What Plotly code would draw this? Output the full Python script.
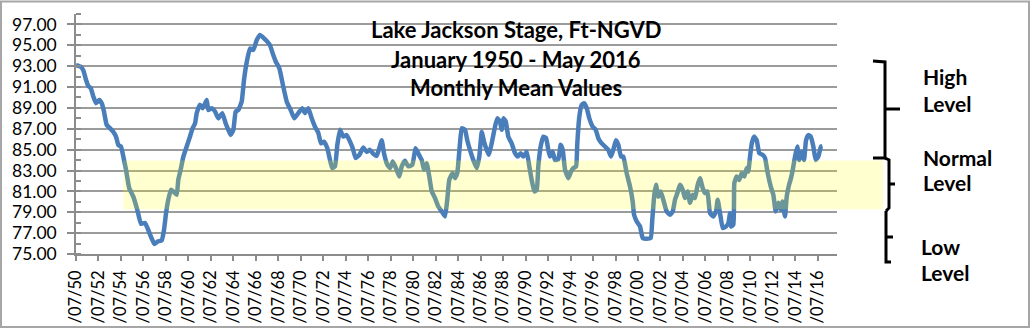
import plotly.graph_objects as go

# ---------------- data ----------------
years = [
    1950.00, 1950.42, 1950.65, 1950.89, 1951.09, 1951.31, 1951.54, 1951.78, 1952.07, 1952.29,
    1952.49, 1952.73, 1953.02, 1953.32, 1953.56, 1953.76, 1954.00, 1954.21, 1954.45, 1954.74,
    1955.10, 1955.45, 1955.78, 1956.14, 1956.43, 1956.73, 1956.97, 1957.27, 1957.62, 1957.83,
    1958.01, 1958.21, 1958.45, 1958.66, 1958.96, 1959.10, 1959.31, 1959.55, 1959.85, 1960.14,
    1960.38, 1960.59, 1960.74, 1961.03, 1961.27, 1961.63, 1961.77, 1962.07, 1962.37, 1962.66,
    1963.02, 1963.32, 1963.55, 1963.76, 1964.00, 1964.21, 1964.44, 1964.74, 1964.95, 1965.19,
    1965.48, 1965.77, 1966.08, 1966.37, 1966.73, 1967.02, 1967.26, 1967.55, 1967.79, 1968.09,
    1968.44, 1968.75, 1969.10, 1969.42, 1969.78, 1970.13, 1970.37, 1970.67, 1970.97, 1971.26,
    1971.56, 1971.80, 1972.06, 1972.36, 1972.60, 1972.80, 1973.04, 1973.25, 1973.49, 1973.78,
    1974.08, 1974.38, 1974.62, 1974.88, 1975.21, 1975.56, 1975.86, 1976.16, 1976.45, 1976.75,
    1976.98, 1977.20, 1977.40, 1977.70, 1977.94, 1978.18, 1978.47, 1978.76, 1978.98, 1979.27,
    1979.56, 1979.92, 1980.22, 1980.52, 1980.76, 1980.96, 1981.20, 1981.43, 1981.65, 1981.94,
    1982.23, 1982.54, 1982.83, 1983.03, 1983.21, 1983.51, 1983.72, 1983.92, 1984.16, 1984.32,
    1984.61, 1984.81, 1985.05, 1985.35, 1985.65, 1985.88, 1986.10, 1986.30, 1986.54, 1986.74,
    1986.98, 1987.28, 1987.48, 1987.72, 1987.87, 1988.02, 1988.23, 1988.46, 1988.76, 1989.06,
    1989.30, 1989.56, 1989.80, 1990.10, 1990.33, 1990.54, 1990.78, 1990.99, 1991.13, 1991.34,
    1991.58, 1991.82, 1992.02, 1992.17, 1992.41, 1992.62, 1992.91, 1993.12, 1993.30, 1993.51,
    1993.80, 1994.04, 1994.25, 1994.49, 1994.60, 1994.78, 1994.99, 1995.20, 1995.44, 1995.67,
    1995.97, 1996.24, 1996.47, 1996.77, 1997.07, 1997.36, 1997.60, 1997.80, 1998.04, 1998.25,
    1998.49, 1998.69, 1998.99, 1999.29, 1999.53, 1999.65, 1999.89, 2000.18, 2000.42, 2000.78,
    2001.13, 2001.27, 2001.45, 2001.60, 2001.81, 2002.02, 2002.25, 2002.55, 2002.85, 2003.09,
    2003.29, 2003.50, 2003.74, 2003.98, 2004.18, 2004.42, 2004.63, 2004.87, 2005.07, 2005.31,
    2005.52, 2005.76, 2005.96, 2006.17, 2006.41, 2006.70, 2006.94, 2007.09, 2007.30, 2007.54,
    2007.83, 2008.04, 2008.19, 2008.27, 2008.48, 2008.57, 2008.78, 2009.01, 2009.23, 2009.46,
    2009.67, 2009.81, 2009.97, 2010.12, 2010.32, 2010.56, 2010.79, 2011.10, 2011.30, 2011.54,
    2011.81, 2012.04, 2012.25, 2012.48, 2012.70, 2012.84, 2013.08, 2013.23, 2013.44, 2013.61,
    2013.77, 2013.97, 2014.17, 2014.35, 2014.57, 2014.77, 2014.95, 2015.15, 2015.37, 2015.60,
    2015.81, 2016.04, 2016.28, 2016.40,
]
stage_ft = [
    93.10, 92.95, 92.60, 91.70, 91.10, 90.90, 90.10, 89.45, 89.77, 89.45,
    88.65, 87.37, 87.06, 86.70, 86.25, 85.46, 85.30, 84.34, 83.07, 81.30,
    80.50, 79.24, 77.90, 77.97, 77.30, 76.50, 75.96, 76.20, 76.30, 77.30,
    78.90, 80.20, 81.15, 81.00, 80.67, 82.10, 83.07, 84.34, 85.30, 86.25,
    87.06, 87.50, 88.50, 89.30, 88.97, 89.77, 88.80, 88.97, 88.65, 88.00,
    88.50, 87.50, 86.90, 86.40, 86.90, 88.65, 88.80, 89.60, 91.70, 93.40,
    94.70, 94.55, 95.50, 96.00, 95.67, 95.35, 95.00, 94.07, 93.40, 92.80,
    91.04, 89.60, 88.80, 88.00, 88.50, 88.97, 88.50, 88.97, 88.00, 87.20,
    86.60, 85.60, 85.77, 85.14, 84.00, 83.23, 83.40, 85.46, 86.90, 86.25,
    86.40, 85.77, 85.14, 84.20, 84.50, 85.20, 84.80, 84.98, 84.60, 84.40,
    85.14, 85.90, 84.66, 83.55, 83.23, 83.86, 83.23, 82.43, 83.40, 83.93,
    83.40, 83.55, 85.14, 84.50, 84.00, 83.07, 83.70, 82.43, 81.00, 80.36,
    79.55, 79.08, 78.60, 80.20, 82.10, 82.75, 82.27, 82.75, 85.60, 87.06,
    86.90, 85.90, 84.98, 84.00, 83.23, 84.34, 86.70, 85.77, 84.98, 84.50,
    85.60, 87.20, 88.00, 87.70, 86.90, 88.00, 87.70, 86.25, 85.60, 84.66,
    84.34, 84.66, 84.34, 84.80, 83.40, 82.10, 81.00, 81.15, 83.40, 85.30,
    86.25, 86.10, 84.98, 84.34, 84.80, 84.00, 84.08, 85.46, 84.98, 83.07,
    82.27, 82.90, 83.23, 83.40, 85.60, 88.17, 89.29, 89.45, 88.97, 88.00,
    87.20, 86.90, 86.10, 85.60, 85.30, 84.98, 84.34, 84.98, 85.90, 85.46,
    84.34, 84.34, 82.75, 81.47, 80.00, 78.76, 78.12, 77.64, 76.53, 76.46,
    76.53, 78.28, 80.67, 81.63, 80.50, 81.00, 80.20, 79.08, 78.76, 79.08,
    80.20, 80.84, 81.63, 81.15, 80.36, 81.00, 79.90, 80.67, 80.36, 81.63,
    82.27, 81.30, 80.84, 81.00, 78.90, 78.60, 79.08, 80.20, 78.90, 77.49,
    77.64, 77.97, 78.90, 77.64, 77.80, 81.79, 82.43, 82.10, 82.75, 82.43,
    83.23, 82.90, 84.34, 85.60, 86.25, 85.90, 84.66, 84.50, 84.20, 82.75,
    81.47, 80.67, 79.08, 79.90, 79.24, 80.04, 78.60, 80.50, 81.63, 82.27,
    83.07, 84.34, 85.30, 84.00, 84.80, 84.00, 85.90, 86.40, 86.25, 85.30,
    84.00, 84.34, 85.30, 85.36,
]

tick_years = list(range(1950, 2017, 2))
tick_labels = ["/07/%02d" % (y % 100) for y in tick_years]
y_ticks = list(range(75, 98, 2))

title_lines = ["Lake Jackson Stage, Ft-NGVD", "January 1950 - May 2016", "Monthly Mean Values"]
level_labels = [("High", "Level"), ("Normal", "Level"), ("Low", "Level")]

band_start_year = 1954.2
band_low, band_high = 79.3, 83.95

# ---------------- layout geometry ----------------
W, H = 1031, 329
L, R, T, B = 76, 837, 14, 254
X_MIN, Y_MIN, Y_MAX = 1950.0, 75.0, 98.0
PX_PER_YEAR = 11.24
X_MAX = X_MIN + (R - L) / PX_PER_YEAR


def px_x(px):
    return (px - L) / (R - L)


def px_y(py):
    return (B - py) / (B - T)


def val_y(v):
    return (v - Y_MIN) / (Y_MAX - Y_MIN)


def yr_x(yr):
    return (yr - X_MIN) / (X_MAX - X_MIN)


FONT = "Lato"
fig = go.Figure()
fig.add_trace(go.Scatter(
    x=years, y=stage_ft, mode="lines",
    line=dict(color="#4A7EBB", width=4.5, shape="spline", smoothing=0.4),
    showlegend=False, hoverinfo="x+y",
))

shapes = []
# yellow "normal" band, drawn above the line
shapes.append(dict(type="rect", xref="paper", yref="paper",
                   x0=yr_x(band_start_year), x1=px_x(883),
                   y0=val_y(band_low), y1=val_y(band_high),
                   fillcolor="rgba(255,255,0,0.19)", line=dict(width=0), layer="above"))


def path(points):
    s = "M %f %f" % (px_x(points[0][0]), px_y(points[0][1]))
    for p in points[1:]:
        s += " L %f %f" % (px_x(p[0]), px_y(p[1]))
    return s


brace_style = dict(type="path", xref="paper", yref="paper",
                   line=dict(color="black", width=3), layer="above")
shapes.append(dict(path=path([(873, 61), (885, 62), (885, 158), (873, 158)]), **brace_style))
shapes.append(dict(path=path([(885, 109), (900, 109)]), **brace_style))
shapes.append(dict(path=path([(885, 158), (889, 160), (889, 208), (886, 211)]), **brace_style))
shapes.append(dict(path=path([(889, 184), (895, 184)]), **brace_style))
shapes.append(dict(path=path([(886, 211), (886, 262), (891, 262)]), **brace_style))
shapes.append(dict(path=path([(886, 237), (893, 237)]), **brace_style))

# outer chart border
shapes.append(dict(type="rect", xref="paper", yref="paper",
                   x0=px_x(1), x1=px_x(1029), y0=px_y(327), y1=px_y(1.5),
                   line=dict(color="#a6a6a6", width=2), fillcolor="rgba(0,0,0,0)", layer="below"))

annotations = []
for txt, yc in zip(title_lines, [30, 59.5, 87]):
    annotations.append(dict(text="<b>%s</b>" % txt, xref="paper", yref="paper",
                            x=px_x(515.5), y=px_y(yc), xanchor="center", yanchor="middle",
                            showarrow=False, font=dict(family=FONT, size=22, color="black")))
for (w1, w2), (xl, y1, y2) in zip(level_labels, [(921, 77, 103), (921, 157, 182), (919, 246, 272)]):
    for w, yc in ((w1, y1), (w2, y2)):
        annotations.append(dict(text="<b>%s</b>" % w, xref="paper", yref="paper",
                                x=px_x(xl), y=px_y(yc), xanchor="left", yanchor="middle",
                                showarrow=False, font=dict(family=FONT, size=21, color="black")))

fig.update_layout(
    template="none",
    width=W, height=H,
    margin=dict(l=L, r=W - R, t=T, b=H - B, autoexpand=False),
    paper_bgcolor="white", plot_bgcolor="white",
    shapes=shapes, annotations=annotations,
    font=dict(family=FONT, size=18, color="black"),
    xaxis=dict(range=[X_MIN, X_MAX], tickvals=tick_years, ticktext=tick_labels,
               tickangle=-90, ticks="outside", ticklen=5, tickwidth=1.5, tickcolor="#8c8c8c",
               showgrid=False, zeroline=False, showline=True, linecolor="#8c8c8c", linewidth=1.5,
               tickfont=dict(family=FONT, size=16.5), ticklabelstandoff=3, automargin=False),
    yaxis=dict(range=[Y_MIN, Y_MAX], tickvals=y_ticks, tickformat=".2f",
               ticks="outside", ticklen=7, tickwidth=1.5, tickcolor="#8c8c8c",
               showgrid=True, gridcolor="#9b9b9b", gridwidth=2,
               zeroline=False, showline=True, linecolor="#8c8c8c", linewidth=1.5,
               minor=dict(ticks="inside", ticklen=5, dtick=1, tick0=75, tickcolor="#8c8c8c",
                          tickwidth=1.5, showgrid=False),
               tickfont=dict(family=FONT, size=17.5), ticklabelstandoff=7, automargin=False),
)

fig.write_html("out.html")
